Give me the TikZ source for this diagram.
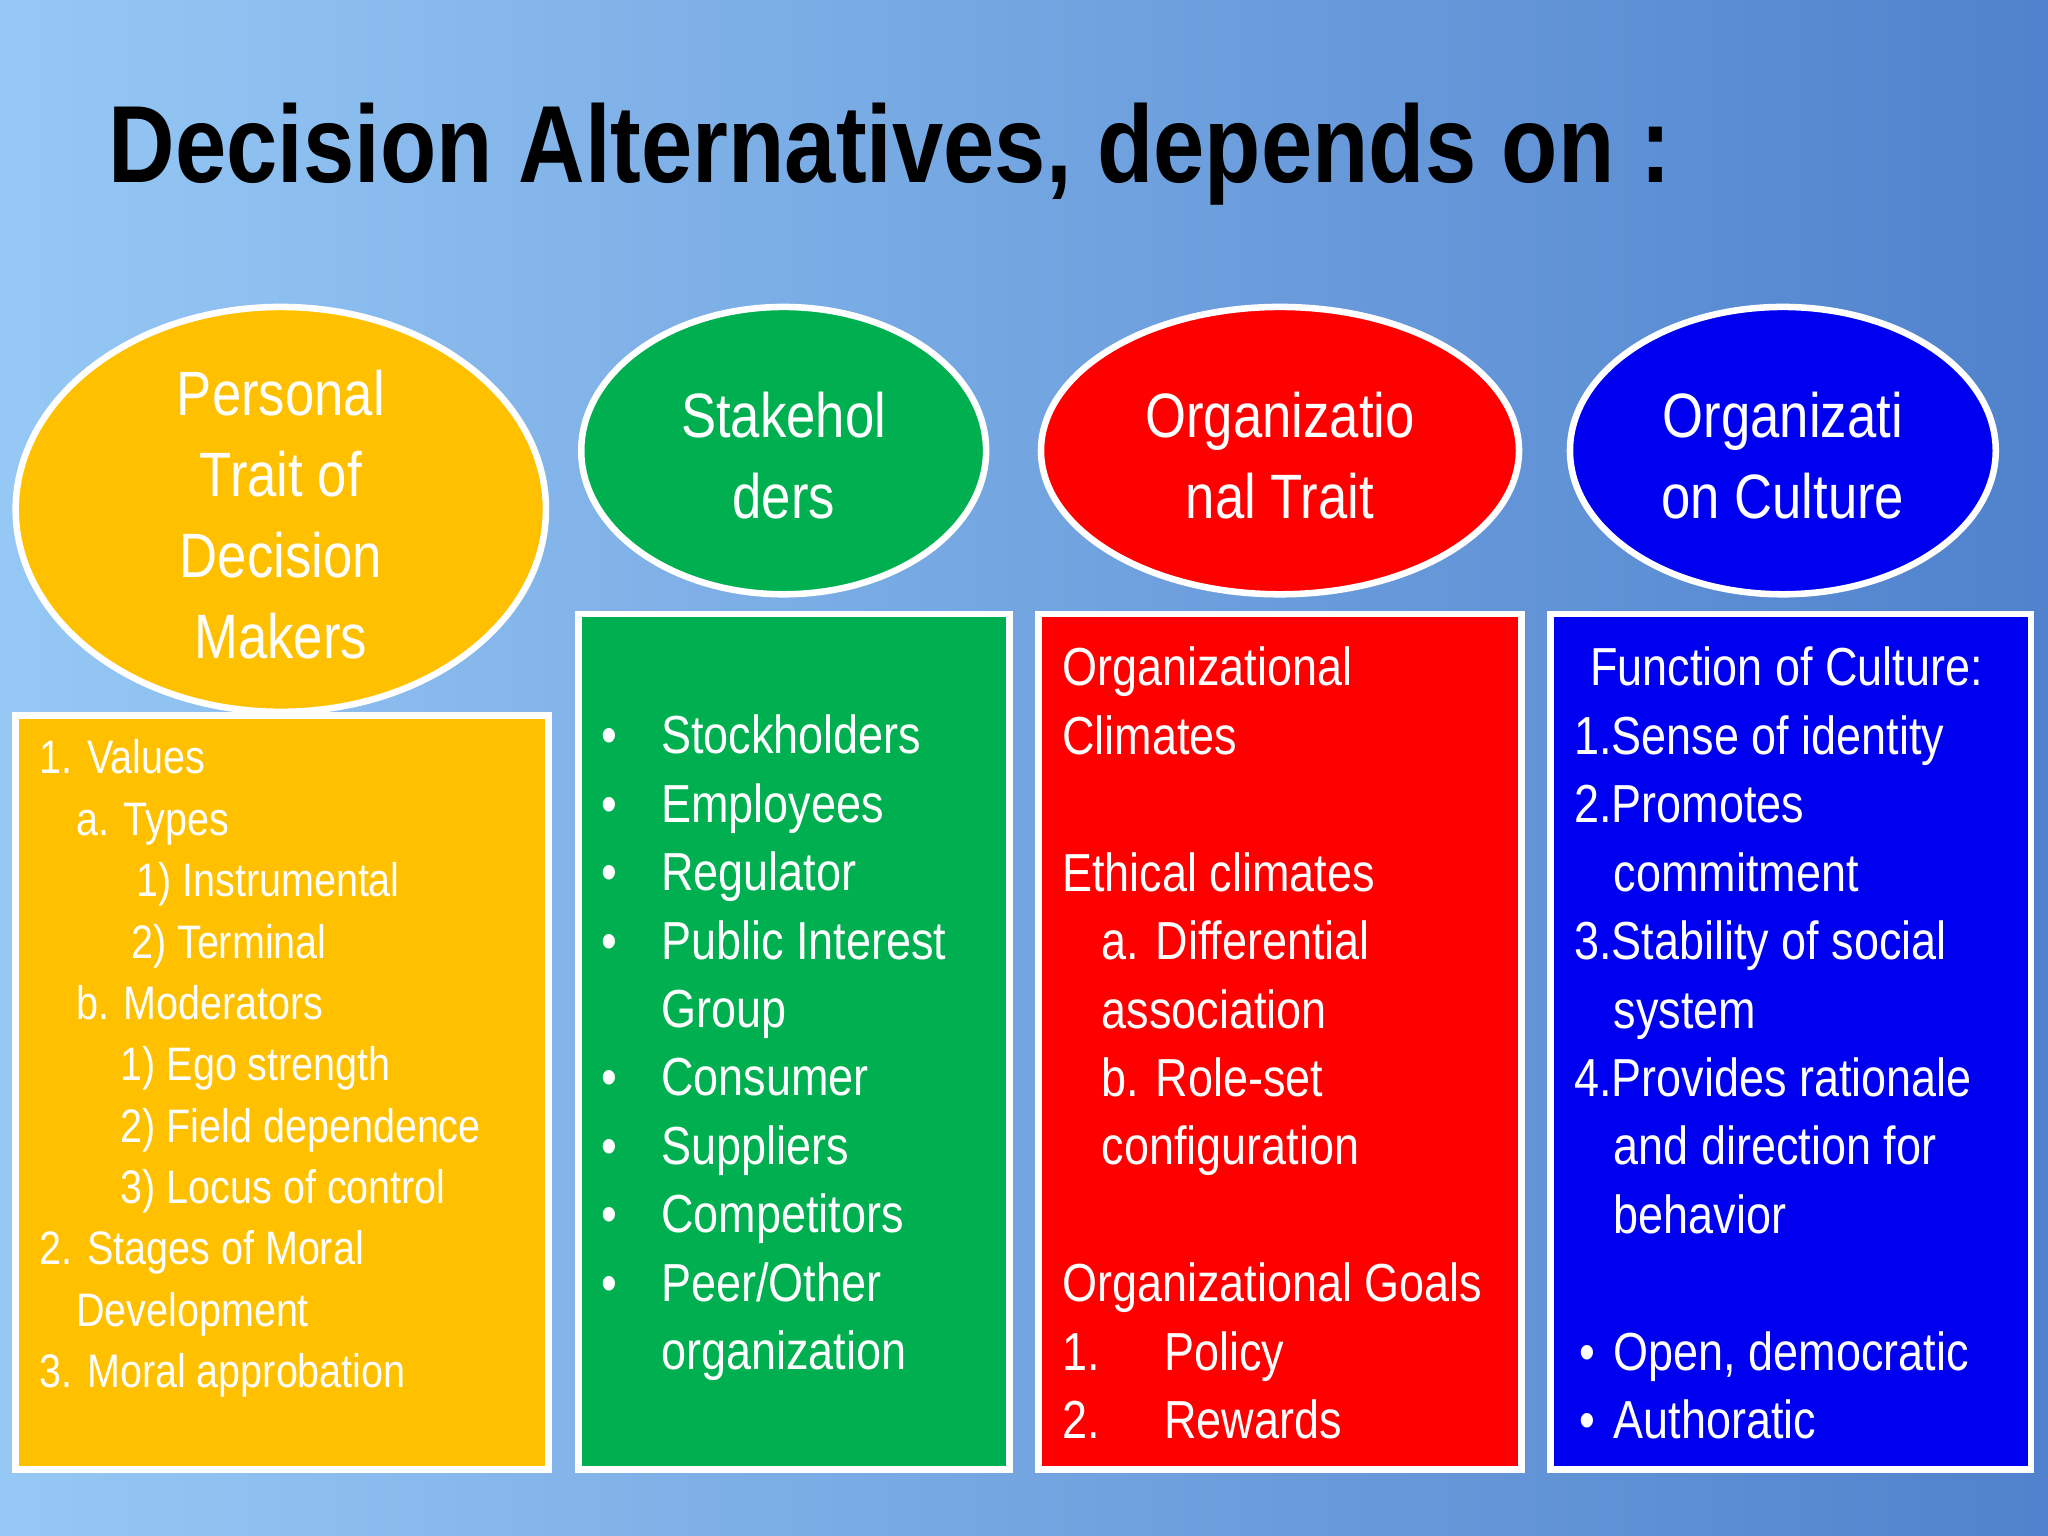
\documentclass[tikz,border=0pt]{standalone}
\usepackage{fontspec}
\setmainfont{Liberation Sans}[FakeStretch=0.84]
\usetikzlibrary{shapes.geometric}
\definecolor{cyel}{RGB}{255,192,0}
\definecolor{cgrn}{RGB}{0,176,80}
\definecolor{cred}{RGB}{255,0,0}
\definecolor{cblu}{RGB}{0,0,240}
\begin{document}
\begin{tikzpicture}[x=0.5pt,y=-0.5pt,
  oval/.style={ellipse,draw=white,line width=2.5pt,inner sep=0pt},
  panel/.style={draw=white,line width=2.5pt},
  ovtext/.style={text=white,align=center,font=\fontsize{24}{31}\selectfont},
  ptext/.style={text=white,align=left,anchor=north west,inner sep=0pt},
  ytext/.style={ptext,font=\fontsize{18}{23.5}\selectfont},
  gtext/.style={ptext,font=\fontsize{20.5}{26.2}\selectfont}]
\useasboundingbox (0,0) rectangle (1568,1176);
\shade[left color={rgb,255:red,150;green,200;blue,245},right color={rgb,255:red,80;green,130;blue,205}] (0,0) rectangle (1568,1176);
\node[anchor=base west,inner sep=0pt,font=\fontsize{42}{50}\selectfont\bfseries] (title) at (83,140) {Decision Alternatives, depends on :};
% ellipses
\node[oval,fill=cyel,minimum width=203pt,minimum height=155pt] (e1) at (215,390) {};
\node[oval,fill=cgrn,minimum width=155pt,minimum height=110pt] (e2) at (600,345) {};
\node[oval,fill=cred,minimum width=183pt,minimum height=110pt] (e3) at (980,345) {};
\node[oval,fill=cblu,minimum width=163pt,minimum height=110pt] (e4) at (1365,345) {};
\node[ovtext] (t1) at (215,394) {Personal\\Trait of\\Decision\\Makers};
\node[ovtext] (t2) at (600,349) {Stakehol\\ders};
\node[ovtext] (t3) at (980,349) {Organizatio\\nal Trait};
\node[ovtext] (t4) at (1365,349) {Organizati\\on Culture};
% panels
\draw[panel,fill=cyel] (12,548) rectangle (420,1125);
\draw[panel,fill=cgrn] (443,470) rectangle (773,1125);
\draw[panel,fill=cred] (795,470) rectangle (1165,1125);
\draw[panel,fill=cblu] (1187,470) rectangle (1555,1125);
\node[ytext] (y) at (30,566) {1. Values\\
\hspace*{14pt}a. Types\\
\hspace*{37pt}1) Instrumental\\
\hspace*{35pt}2) Terminal\\
\hspace*{14pt}b. Moderators\\
\hspace*{31pt}1) Ego strength\\
\hspace*{31pt}2) Field dependence\\
\hspace*{31pt}3) Locus of control\\
2. Stages of Moral\\
\hspace*{14pt}Development\\
3. Moral approbation};
\node[gtext] (g) at (460,547) {\makebox[23pt][l]{•}Stockholders\\
\makebox[23pt][l]{•}Employees\\
\makebox[23pt][l]{•}Regulator\\
\makebox[23pt][l]{•}Public Interest\\
\makebox[23pt][l]{}Group\\
\makebox[23pt][l]{•}Consumer\\
\makebox[23pt][l]{•}Suppliers\\
\makebox[23pt][l]{•}Competitors\\
\makebox[23pt][l]{•}Peer/Other\\
\makebox[23pt][l]{}organization};
\node[gtext] (r) at (813,495) {Organizational\\
Climates\\
\strut\\
Ethical climates\\
\hspace*{15pt}a. Differential\\
\hspace*{15pt}association\\
\hspace*{15pt}b. Role-set\\
\hspace*{15pt}configuration\\
\strut\\
Organizational Goals\\
\makebox[39pt][l]{1.}Policy\\
\makebox[39pt][l]{2.}Rewards};
\node[gtext] (b) at (1205,495) {\hspace*{6pt}Function of Culture:\\
1.Sense of identity\\
2.Promotes\\
\hspace*{15pt}commitment\\
3.Stability of social\\
\hspace*{15pt}system\\
4.Provides rationale\\
\hspace*{15pt}and direction for\\
\hspace*{15pt}behavior\\
\strut\\
\makebox[15pt][l]{\hspace*{2pt}•}Open, democratic\\
\makebox[15pt][l]{\hspace*{2pt}•}Authoratic};
\end{tikzpicture}
\end{document}
